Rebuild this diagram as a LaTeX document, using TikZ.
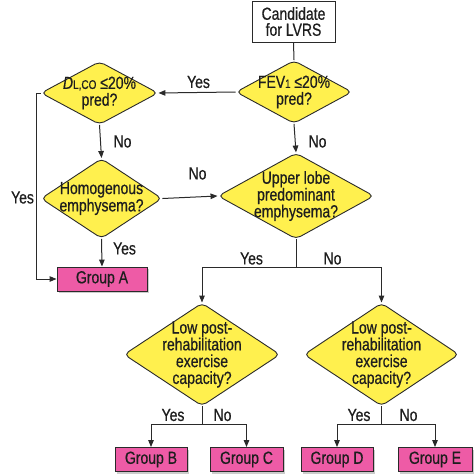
\documentclass[tikz,border=0pt]{standalone}
\usepackage{fontspec}
\setmainfont{Liberation Sans}[FakeStretch=0.8,FakeBold=0.6]
\usetikzlibrary{shapes.geometric,arrows.meta,shadows}
\definecolor{dyellow}{HTML}{FFF04E}
\definecolor{gpink}{HTML}{EE5BA6}
\definecolor{lc}{HTML}{2A2A2A}
\definecolor{tc}{HTML}{1E1E1E}
\tikzset{
  txt/.style={align=center, inner sep=0pt, font=\fontsize{17.5}{16.8}\selectfont, text=tc},
  tight/.style={font=\fontsize{17.5}{16}\selectfont},
  dec/.style={diamond, draw=lc, fill=dyellow, rounded corners=5pt, inner sep=0pt, line width=0.9pt},
  grp/.style={rectangle, draw=lc, fill=gpink, minimum height=24pt, inner sep=0pt, line width=0.9pt,
    txt, general shadow={fill=black!20, shadow xshift=2pt, shadow yshift=-2pt}},
  startbox/.style={rectangle, draw=lc, fill=white, line width=1pt, txt, tight},
  conn/.style={draw=lc, line width=1pt},
  arr/.style={conn, -{Triangle[length=7pt,width=5.5pt]}},
  lab/.style={txt}
}
\begin{document}
\begin{tikzpicture}[x=1pt,y=-1pt]
\useasboundingbox[fill=white] (0,0) rectangle (474,474);
% nodes
\node[startbox, minimum width=83pt, minimum height=41pt] (cand) at (293.5,21.5) {Candidate\\for LVRS};
\node[dec, minimum width=116pt, minimum height=63pt,
  label={[txt]center:FEV{\fontsize{12}{11}\selectfont 1} ≤20\%\\pred?}] (fev) at (294,92) {};
\node[dec, minimum width=117pt, minimum height=63pt,
  label={[txt]center:\textit{D}{\fontsize{12.5}{11}\selectfont L,CO} ≤20\%\\pred?}] (dl) at (99.5,93) {};
\node[dec, minimum width=121pt, minimum height=80pt,
  label={[txt,tight]center:Homogenous\\emphysema?}] (hom) at (101.5,198.5) {};
\node[dec, minimum width=156pt, minimum height=86pt,
  label={[txt]center:Upper lobe\\predominant\\emphysema?}] (ul) at (296,196) {};
\node[grp, minimum width=90pt] (ga) at (102,279) {Group A};
\node[dec, minimum width=156pt, minimum height=103pt,
  label={[txt]center:Low post-\\rehabilitation\\exercise\\capacity?}] (lp1) at (202,354.5) {};
\node[dec, minimum width=155pt, minimum height=103pt,
  label={[txt]center:Low post-\\rehabilitation\\exercise\\capacity?}] (lp2) at (381.5,354.5) {};
\node[grp, minimum width=72pt] (gb) at (151,459.5) {Group B};
\node[grp, minimum width=73pt] (gc) at (246.5,459.5) {Group C};
\node[grp, minimum width=72pt] (gd) at (337,459.5) {Group D};
\node[grp, minimum width=74pt] (ge) at (435,459.5) {Group E};
% connectors
\draw[conn] (cand.south) -- (fev.north);
\draw[arr] (fev.west) -- (dl.east);
\draw[arr] (dl.south) -- (hom.north);
\draw[arr] (fev.south) -- (ul.north);
\draw[arr] (hom.east) -- (ul.west);
\draw[arr] (hom.south) -- (ga.north);
\draw[arr] (dl.west) -- ++(-4,0) |- (ga.west);
\coordinate (j1) at (296,267);
\draw[conn] (ul.south) -- (j1);
\draw[arr] (j1) -| (lp1.north);
\draw[arr] (j1) -| (lp2.north);
\coordinate (j2) at (202,424);
\draw[conn] (lp1.south) -- (j2);
\draw[arr] (j2) -| (gb.north);
\draw[arr] (j2) -| (gc.north);
\coordinate (j3) at (381.5,424);
\draw[conn] (lp2.south) -- (j3);
\draw[arr] (j3) -| (gd.north);
\draw[arr] (j3) -| (ge.north);
% labels
\node[lab] (l1) at (198.5,82) {Yes};
\node[lab] (l2) at (122.5,141.5) {No};
\node[lab] (l3) at (317.5,141.5) {No};
\node[lab] (l4) at (197.5,173.5) {No};
\node[lab] (l5) at (22.5,197.5) {Yes};
\node[lab] (l6) at (124.5,248.5) {Yes};
\node[lab] (l7) at (251.5,258.5) {Yes};
\node[lab] (l8) at (332.5,258.5) {No};
\node[lab] (l9) at (173,415) {Yes};
\node[lab] (l10) at (222.5,415) {No};
\node[lab] (l11) at (359,415) {Yes};
\node[lab] (l12) at (408.5,415) {No};
\end{tikzpicture}
\end{document}
